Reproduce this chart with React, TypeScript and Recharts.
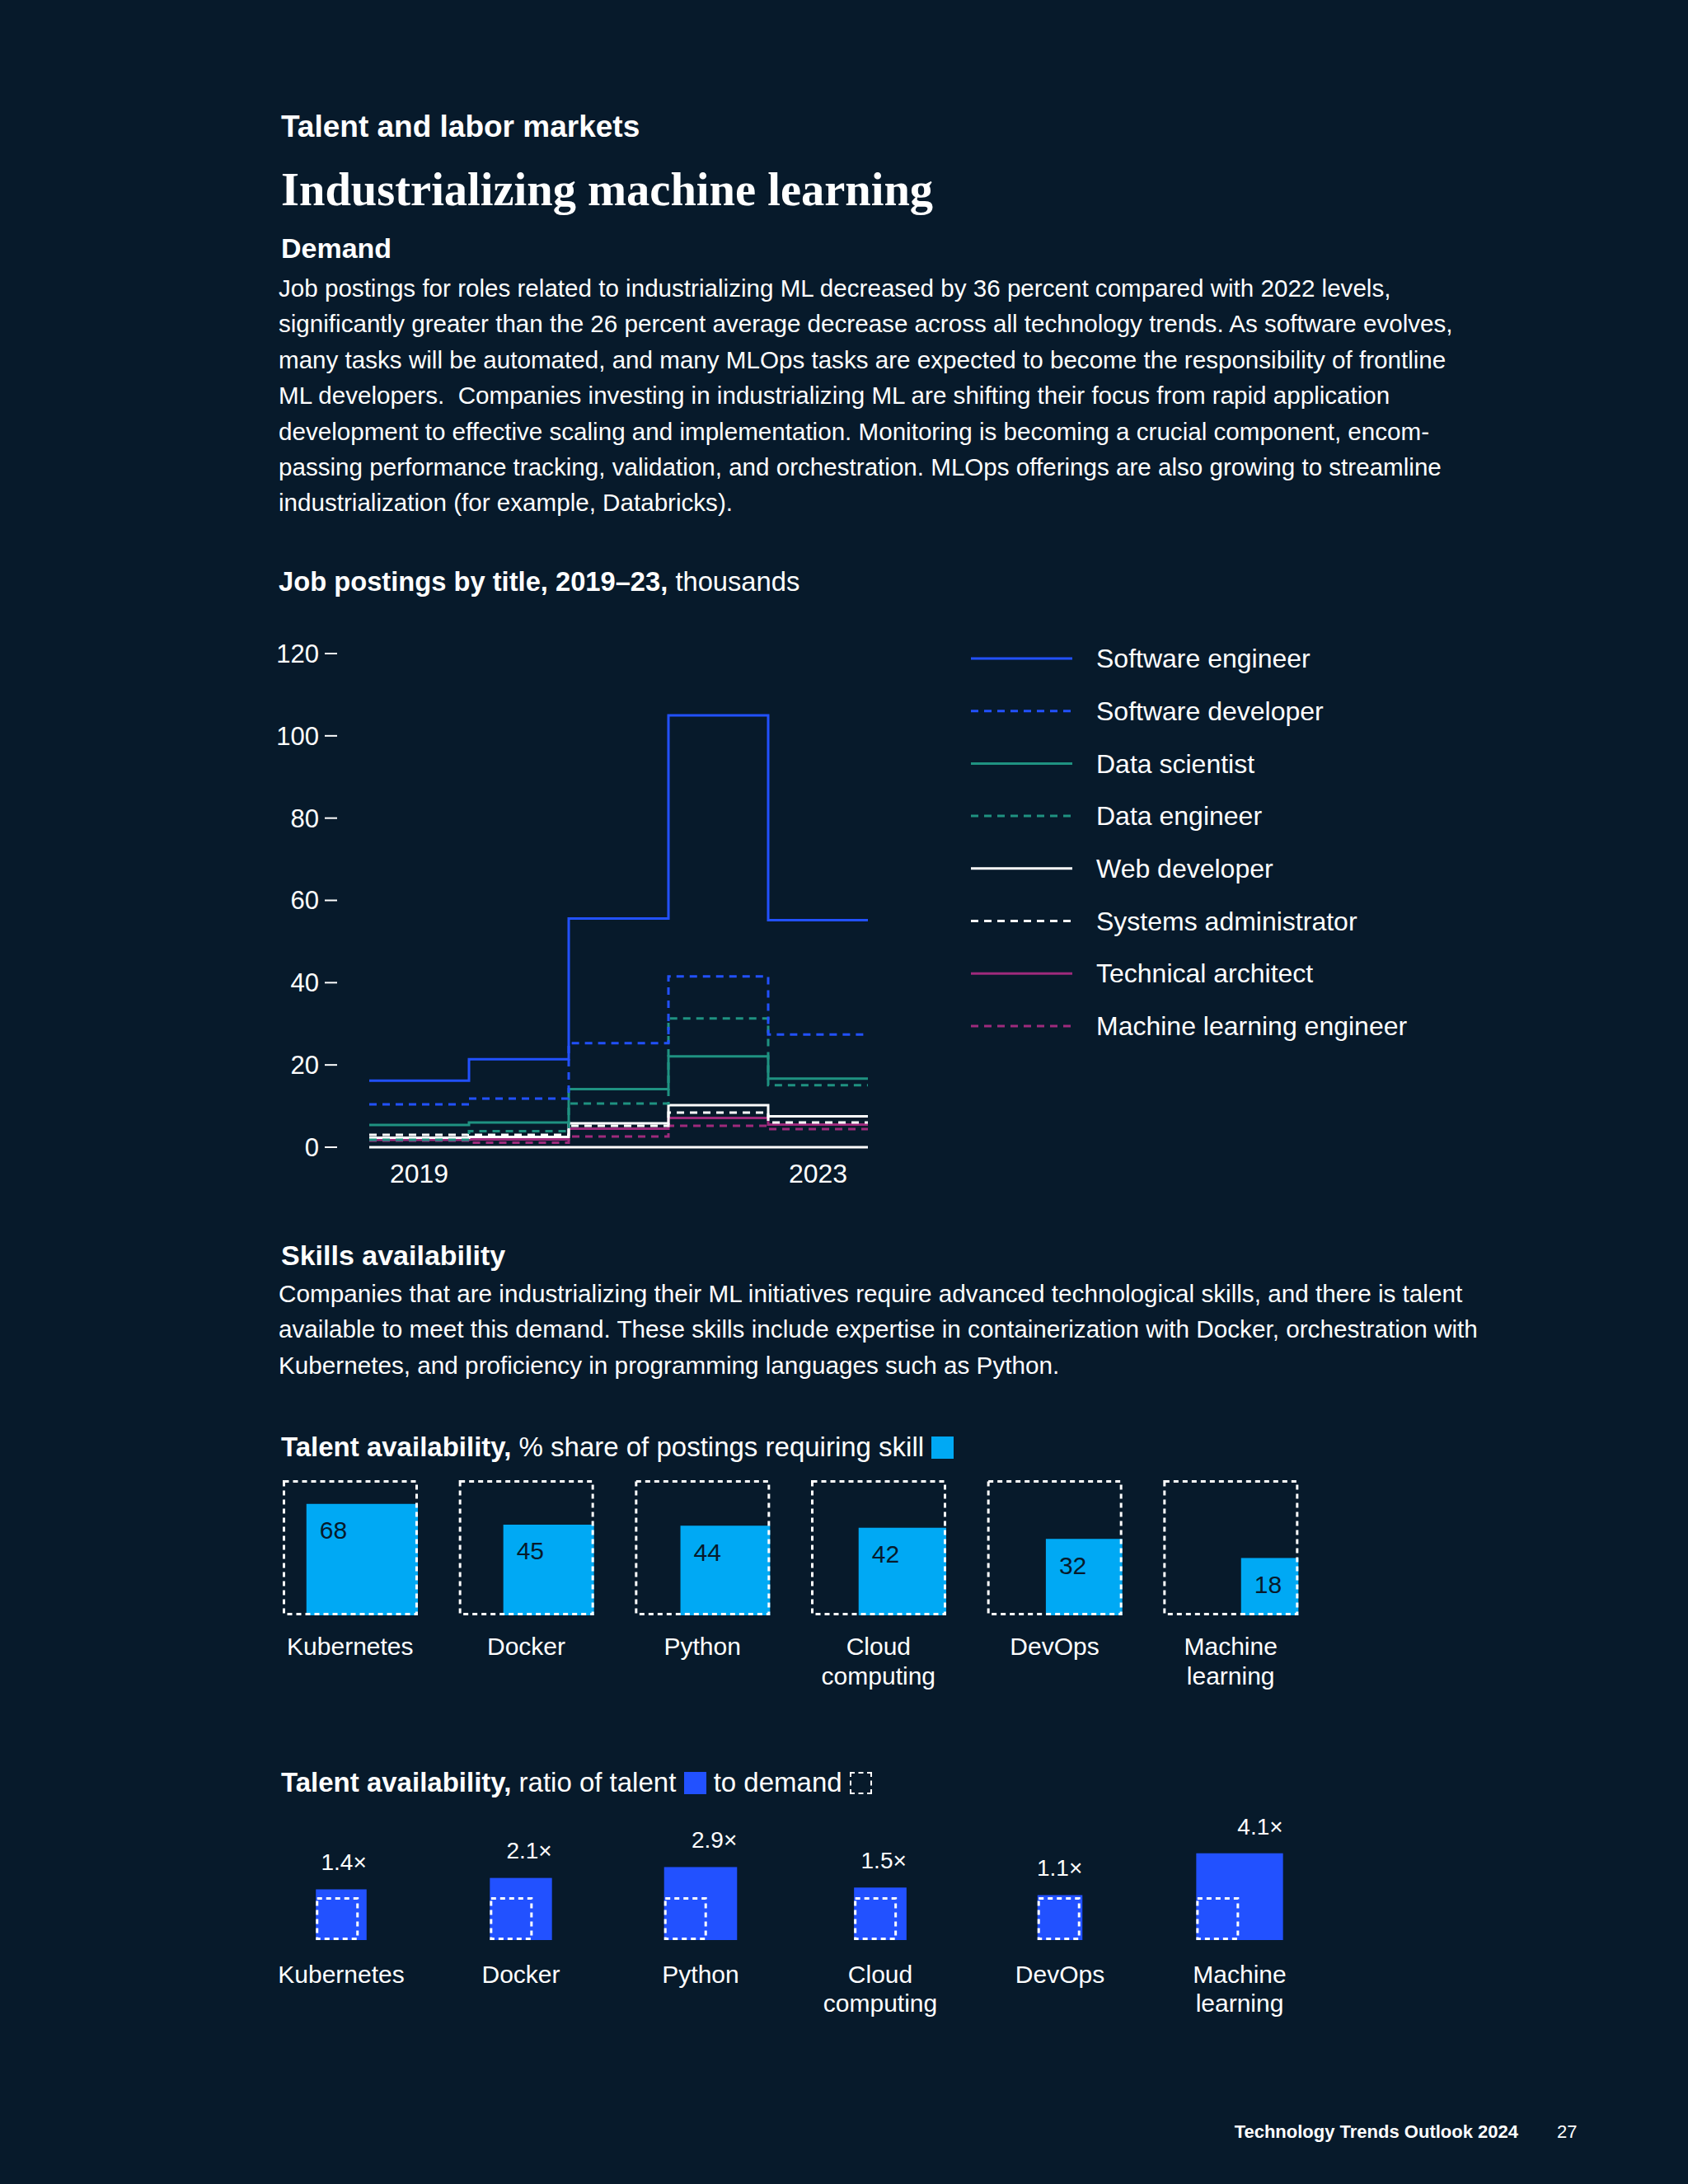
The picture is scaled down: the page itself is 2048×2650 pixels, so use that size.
import React from "react";
import { LineChart, Line, XAxis, YAxis, Legend, BarChart, Bar } from "recharts";

const BG = "#071a2b";
const BLUE = "#2251ff";
const TEAL = "#1f9281";
const MAGENTA = "#9e2a7c";
const CYAN = "#00a9f4";
const WHITE = "#ffffff";
const SANS = "'Liberation Sans', Arial, sans-serif";
const SERIF = "'Liberation Serif', 'DejaVu Serif', serif";

// job postings, thousands
const YEARS = [2019, 2020, 2021, 2022, 2023];
const SOFTWARE_ENGINEER = [16.2, 21.4, 55.6, 105, 55.2];
const SOFTWARE_DEVELOPER = [10.4, 11.8, 25.3, 41.5, 27.4];
const DATA_SCIENTIST = [5.4, 6.0, 14.1, 22.1, 16.7];
const DATA_ENGINEER = [1.8, 3.9, 10.6, 31.3, 15.1];
const WEB_DEVELOPER = [2.3, 2.5, 5.8, 10.2, 7.5];
const SYSTEMS_ADMIN = [3.0, 3.0, 5.2, 8.4, 6.0];
const TECH_ARCHITECT = [1.8, 1.9, 4.5, 7.1, 5.5];
const ML_ENGINEER = [1.6, 1.1, 2.6, 5.2, 4.4];
const Y_TICKS = [0, 20, 40, 60, 80, 100, 120];

const SERIES = [
  { key: "se", name: "Software engineer", values: SOFTWARE_ENGINEER, color: BLUE, dashed: false },
  { key: "sd", name: "Software developer", values: SOFTWARE_DEVELOPER, color: BLUE, dashed: true },
  { key: "ds", name: "Data scientist", values: DATA_SCIENTIST, color: TEAL, dashed: false },
  { key: "de", name: "Data engineer", values: DATA_ENGINEER, color: TEAL, dashed: true },
  { key: "wd", name: "Web developer", values: WEB_DEVELOPER, color: WHITE, dashed: false },
  { key: "sa", name: "Systems administrator", values: SYSTEMS_ADMIN, color: WHITE, dashed: true },
  { key: "ta", name: "Technical architect", values: TECH_ARCHITECT, color: MAGENTA, dashed: false },
  { key: "ml", name: "Machine learning engineer", values: ML_ENGINEER, color: MAGENTA, dashed: true },
];

// skills
const SKILLS = ["Kubernetes", "Docker", "Python", "Cloud computing", "DevOps", "Machine learning"];
const SHARE = [68, 45, 44, 42, 32, 18];
const RATIO = [1.4, 2.1, 2.9, 1.5, 1.1, 4.1];

// one extra point after 2023 so the last step gets its full width
const stepData = [...YEARS, YEARS[YEARS.length - 1] + 1].map((year, i) => {
  const row: Record<string, number> = { year };
  SERIES.forEach((s) => {
    row[s.key] = s.values[Math.min(i, s.values.length - 1)];
  });
  return row;
});

const shareData = SKILLS.map((skill, i) => ({ skill, share: SHARE[i], side: Math.sqrt(SHARE[i] / 100) }));
const ratioData = SKILLS.map((skill, i) => ({ skill, ratio: RATIO[i], side: Math.sqrt(RATIO[i]) }));

const P1 = [
  "Job postings for roles related to industrializing ML decreased by 36 percent compared with 2022 levels,",
  "significantly greater than the 26 percent average decrease across all technology trends. As software evolves,",
  "many tasks will be automated, and many MLOps tasks are expected to become the responsibility of frontline",
  "ML developers.  Companies investing in industrializing ML are shifting their focus from rapid application",
  "development to effective scaling and implementation. Monitoring is becoming a crucial component, encom-",
  "passing performance tracking, validation, and orchestration. MLOps offerings are also growing to streamline",
  "industrialization (for example, Databricks).",
];
const P2 = [
  "Companies that are industrializing their ML initiatives require advanced technological skills, and there is talent",
  "available to meet this demand. These skills include expertise in containerization with Docker, orchestration with",
  "Kubernetes, and proficiency in programming languages such as Python.",
];

function YTick(props: any) {
  const { x, y, payload } = props;
  return (
    <g>
      <text x={x - 61} y={y} dy="0.35em" textAnchor="end" fill={WHITE} fontSize={31} fontFamily={SANS}>
        {payload.value}
      </text>
      <line x1={x - 54} x2={x - 39} y1={y} y2={y} stroke={WHITE} strokeWidth={2} />
    </g>
  );
}

function StepLegend() {
  return (
    <svg width={620} height={520}>
      {SERIES.map((s, i) => {
        const cy = 39 + i * 63.7;
        return (
          <g key={s.key}>
            <line x1={0} x2={123} y1={cy} y2={cy} stroke={s.color} strokeWidth={3} strokeDasharray={s.dashed ? "9 7" : undefined} />
            <text x={152} y={cy} dy="0.35em" fill={WHITE} fontSize={32} fontFamily={SANS}>
              {s.name}
            </text>
          </g>
        );
      })}
    </svg>
  );
}

function SkillTick(props: any) {
  const { x, y, payload, first, second } = props;
  const lines = String(payload.value).split(" ");
  return (
    <g>
      {lines.map((t, i) => (
        <text key={i} x={x} y={y + (i === 0 ? first : second)} textAnchor="middle" fill={WHITE} fontSize={30} fontFamily={SANS}>
          {t}
        </text>
      ))}
    </g>
  );
}

function ShareSquare(props: any) {
  const { x, y, width, height, payload } = props;
  const bottom = y + height;
  const left = x + width - height;
  return (
    <g>
      <rect x={left} y={y} width={height} height={height} fill={CYAN} />
      <text x={left + 16} y={y + 32} dy="0.35em" fill={BG} fontSize={30} fontFamily={SANS}>
        {payload.share}
      </text>
      <rect x={x + 1.5} y={bottom - width + 1.5} width={width - 3} height={width - 3} fill="none" stroke={WHITE} strokeWidth={3} strokeDasharray="6 5" />
    </g>
  );
}

function RatioSquare(props: any) {
  const { x, y, width, height, payload } = props;
  const cx = x + width / 2;
  const left = cx - height / 2;
  const unit = height / payload.side;
  const bottom = y + height;
  return (
    <g>
      <rect x={left} y={y} width={height} height={height} fill={BLUE} />
      <rect x={left + 1.5} y={bottom - unit + 1.5} width={unit - 3} height={unit - 3} fill="none" stroke={WHITE} strokeWidth={3} strokeDasharray="6 5" />
      <text x={left + height} y={y - 33} dy="0.35em" textAnchor="end" fill={WHITE} fontSize={28} fontFamily={SANS}>
        {payload.ratio}×
      </text>
    </g>
  );
}

const abs = (left: number, top: number, extra: React.CSSProperties = {}): React.CSSProperties => ({
  position: "absolute",
  left,
  top,
  margin: 0,
  color: WHITE,
  fontFamily: SANS,
  whiteSpace: "pre",
  ...extra,
});

export default function App() {
  return (
    <div style={{ position: "absolute", left: 0, top: 0, width: 2048, height: 2650, background: BG, overflow: "hidden" }}>
      <div style={abs(341, 132, { fontSize: 37, lineHeight: "44px", fontWeight: 700 })}>Talent and labor markets</div>
      <div style={abs(341, 198, { fontSize: 56.5, lineHeight: "64px", fontWeight: 700, fontFamily: SERIF })}>
        Industrializing machine learning
      </div>
      <div style={abs(341, 281, { fontSize: 34, lineHeight: "40px", fontWeight: 700 })}>Demand</div>
      <div style={abs(338, 328, { fontSize: 29.6, lineHeight: "43.4px" })}>
        {P1.map((l, i) => (
          <div key={i}>{l}</div>
        ))}
      </div>

      <div style={abs(338, 686, { fontSize: 32.7, lineHeight: "40px" })}>
        <b>Job postings by title, 2019–23,</b> thousands
      </div>

      <div style={{ position: "absolute", left: 330, top: 760 }}>
        <LineChart width={1400} height={700} data={stepData} margin={{ top: 33, right: 677, bottom: 8, left: 0 }}>
          <XAxis
            type="number"
            dataKey="year"
            domain={[2019, 2024]}
            ticks={[2019.5, 2023.5]}
            tickFormatter={(v) => String(Math.floor(v))}
            axisLine={{ stroke: WHITE, strokeWidth: 3 }}
            tickLine={false}
            tickMargin={14}
            height={60}
            tick={{ fill: WHITE, fontSize: 32, fontFamily: SANS }}
          />
          <YAxis
            domain={[0, 120]}
            ticks={Y_TICKS}
            width={118}
            axisLine={false}
            tickLine={false}
            tickSize={0}
            tickMargin={0}
            tick={<YTick />}
          />
          <Legend
            layout="vertical"
            align="center"
            verticalAlign="middle"
            wrapperStyle={{ left: 848, top: 0, width: 620 }}
            content={() => <StepLegend />}
          />
          {[...SERIES].reverse().map((s) => (
            <Line
              key={s.key}
              type="stepAfter"
              dataKey={s.key}
              name={s.name}
              stroke={s.color}
              strokeWidth={3}
              strokeDasharray={s.dashed ? "9 7" : undefined}
              dot={false}
              activeDot={false}
              isAnimationActive={false}
            />
          ))}
        </LineChart>
      </div>

      <div style={abs(341, 1503, { fontSize: 34, lineHeight: "40px", fontWeight: 700 })}>Skills availability</div>
      <div style={abs(338, 1548, { fontSize: 29.7, lineHeight: "43.4px" })}>
        {P2.map((l, i) => (
          <div key={i}>{l}</div>
        ))}
      </div>

      <div style={abs(341, 1736, { fontSize: 33, lineHeight: "40px" })}>
        <b>Talent availability,</b> % share of postings requiring skill{" "}
        <span style={{ display: "inline-block", width: 27, height: 27, background: CYAN, verticalAlign: "-3px" }} />
      </div>

      <div style={{ position: "absolute", left: 318, top: 1780 }}>
        <BarChart width={1282} height={290} data={shareData} margin={{ top: 16, right: 0, bottom: 0, left: 0 }}>
          <XAxis
            dataKey="skill"
            axisLine={false}
            tickLine={false}
            tickSize={0}
            tickMargin={0}
            height={110}
            interval={0}
            tick={<SkillTick first={48} second={84} />}
          />
          <YAxis hide domain={[0, 1]} />
          <Bar dataKey="side" barSize={164} shape={<ShareSquare />} isAnimationActive={false} />
        </BarChart>
      </div>

      <div style={abs(341, 2143, { fontSize: 33, lineHeight: "40px" })}>
        <b>Talent availability,</b> ratio of talent{" "}
        <span style={{ display: "inline-block", width: 27, height: 27, background: BLUE, verticalAlign: "-3px" }} /> to demand{" "}
        <span
          style={{ display: "inline-block", width: 23, height: 23, border: "2px dashed #fff", verticalAlign: "-3px" }}
        />
      </div>

      <div style={{ position: "absolute", left: 305, top: 2150 }}>
        <BarChart width={1308} height={314} data={ratioData} margin={{ top: 74, right: 0, bottom: 0, left: 0 }}>
          <XAxis
            dataKey="skill"
            axisLine={false}
            tickLine={false}
            tickSize={0}
            tickMargin={0}
            height={110}
            interval={0}
            tick={<SkillTick first={52} second={87} />}
          />
          <YAxis hide domain={[0, 2.5]} />
          <Bar dataKey="side" barSize={60} shape={<RatioSquare />} isAnimationActive={false} />
        </BarChart>
      </div>

      <div style={abs(1842, 2573, { fontSize: 22, lineHeight: "28px", fontWeight: 700, transform: "translateX(-100%)" })}>
        Technology Trends Outlook 2024
      </div>
      <div style={abs(1889, 2573, { fontSize: 22, lineHeight: "28px" })}>27</div>
    </div>
  );
}
